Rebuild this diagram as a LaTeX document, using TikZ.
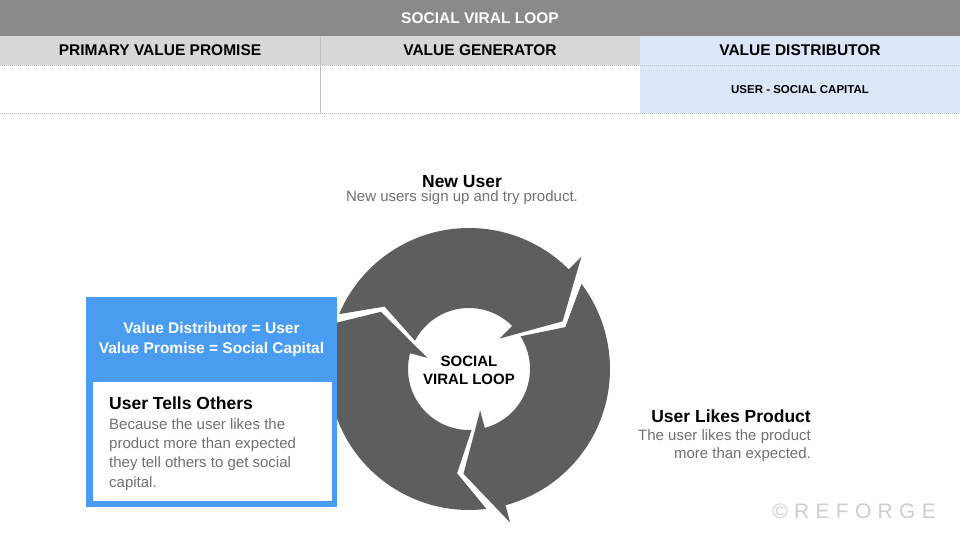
\documentclass[tikz,border=0pt]{standalone}
\usepackage{fontspec}
\setmainfont{Liberation Sans}

\definecolor{bargray}{RGB}{138,138,138}
\definecolor{cellgray}{RGB}{216,215,216}
\definecolor{cellblue}{RGB}{219,231,249}
\definecolor{gridgray}{RGB}{190,190,190}
\definecolor{loopgray}{RGB}{94,94,94}
\definecolor{boxblue}{RGB}{74,156,240}
\definecolor{bodygray}{RGB}{112,112,112}
\definecolor{markgray}{RGB}{205,205,205}

\newcommand{\loopgap}{3.5}

\begin{document}
\begin{tikzpicture}[x=1pt,y=1pt,inner sep=0pt,
                    bartext/.style={text=white,font=\fontsize{15.5}{18}\selectfont\bfseries},
                    cellhead/.style={font=\fontsize{15.5}{18}\selectfont\bfseries},
                    celltext/.style={font=\fontsize{11.5}{14}\selectfont\bfseries},
                    stagehead/.style={font=\fontsize{17.5}{21}\selectfont\bfseries},
                    stagetext/.style={text=bodygray,font=\fontsize{15}{19.1}\selectfont},
                    boxtext/.style={text=white,align=center,font=\fontsize{15.5}{20}\selectfont\bfseries},
                    hubtext/.style={align=center,font=\fontsize{15}{18}\selectfont\bfseries}]
  \tikzstyle{gridline}=[gridgray,line width=0.6pt,dash pattern=on 1pt off 1pt]
  \tikzstyle{loopfill}=[fill=loopgray]

  \useasboundingbox (0,0) rectangle (960,-540);
  \fill[white] (0,0) rectangle (960,-540);

  % header table
  \fill[bargray] (0,0) rectangle (960,-36);
  \fill[cellgray] (0,-36) rectangle (640,-65);
  \fill[cellblue] (640,-36) rectangle (960,-113);
  \draw[gridgray,line width=0.6pt] (320,-36) -- (320,-113);
  \draw[gridline] (0,-65) -- (960,-65);
  \draw[gridline] (0,-113) -- (960,-113);

  \node[bartext] (title) at (480,-18) {SOCIAL VIRAL LOOP};
  \node[cellhead] (promise) at (160,-50.5) {PRIMARY VALUE PROMISE};
  \node[cellhead] (generator) at (480,-50.5) {VALUE GENERATOR};
  \node[cellhead] (distributor) at (800,-50.5) {VALUE DISTRIBUTOR};
  \node[celltext] (capital) at (800,-89.5) {USER - SOCIAL CAPITAL};

  % the loop
  \coordinate (hub) at (469,-369);
  \begin{scope}[shift={(hub)}]
    \foreach \from/\to in {165/45, 45/-75, -75/-195} {
      \pgfmathsetmacro{\outa}{\from-\loopgap-4.4}
      \pgfmathsetmacro{\ina}{\from-\loopgap-9.1}
      \pgfmathsetmacro{\notch}{\from-\loopgap-18}
      \pgfmathsetmacro{\tip}{\to-18}
      \path[loopfill] (\outa:141pt) arc[start angle=\outa,end angle=\to,radius=141pt]
        -- (\to:159pt) -- (\tip:105pt) -- (\to:43pt) -- (\to:61pt)
        arc[start angle=\to,end angle=\ina,radius=61pt]
        -- (\notch:105pt) -- cycle;
    }
  \end{scope}
  \node[hubtext] (hubname) at (469,-370) {SOCIAL\\VIRAL LOOP};

  % stages
  \node[stagehead,anchor=base] (newuser) at (462,-187) {New User};
  \node[stagetext,anchor=base] (newusertext) at (462,-201) {New users sign up and try product.};

  \node[stagehead,anchor=base east] (likes) at (811,-422) {User Likes Product};
  \node[stagetext,anchor=base east,align=right,font=\fontsize{15}{18}\selectfont] (likestext) at (811,-458)
    {The user likes the product\\more than expected.};

  \fill[boxblue] (86,-297) rectangle (337,-507);
  \fill[white] (93,-382) rectangle (332,-501);
  \node[boxtext] (roles) at (211.5,-339) {Value Distributor = User\\Value Promise = Social Capital};
  \node[stagehead,anchor=base west] (tells) at (109,-409) {User Tells Others};
  \node[stagetext,anchor=base west,align=left] (tellstext) at (109,-487)
    {Because the user likes the\\product more than expected\\they tell others to get social\\capital.};

  \node[text=markgray,anchor=base east,font=\fontsize{21}{24}\selectfont\addfontfeature{LetterSpace=30}] (mark) at (936,-518) {©REFORGE};
\end{tikzpicture}
\end{document}
